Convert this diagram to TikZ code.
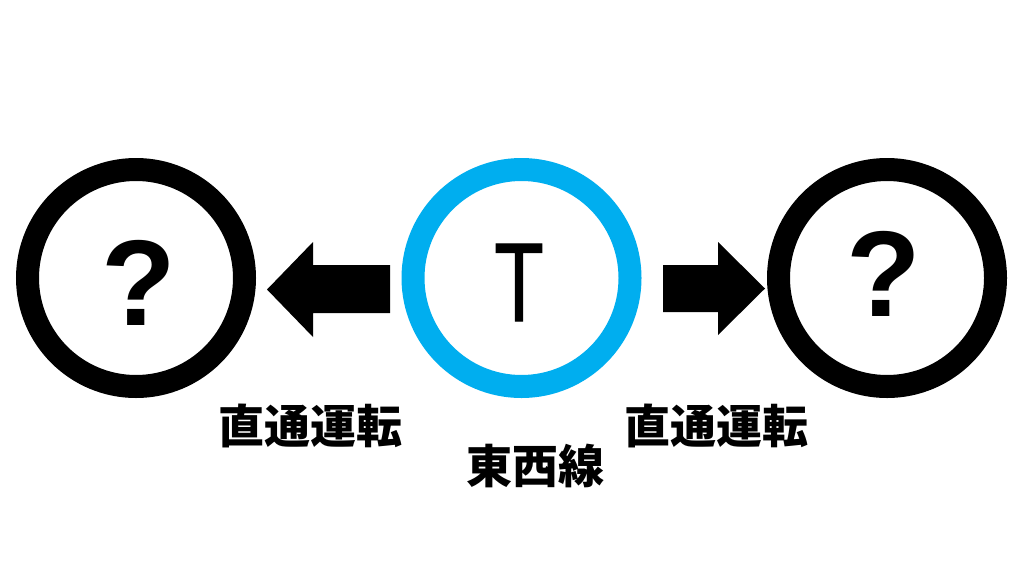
\documentclass[tikz,border=0pt]{standalone}
\usepackage{fontspec}
\setmainfont{Liberation Sans}
\newfontfamily\cjk{Noto Sans CJK JP}
\newfontfamily\tfont[FakeBold=1.2]{Liberation Sans}
\definecolor{lineblue}{RGB}{0,174,239}
\begin{document}
\begin{tikzpicture}[x=1pt,y=-1pt,
  ring/.style={circle,draw=black,line width=23pt,minimum size=217pt,inner sep=0pt},
  qmark/.style={font=\fontsize{122}{122}\selectfont\bfseries},
  lbl/.style={font=\cjk\bfseries\fontsize{46}{46}\selectfont,inner sep=0pt},
  bigarrow/.style={fill=black,draw=none}]
\useasboundingbox[fill=white] (0,0) rectangle (1024,576);
\node[ring] (L) at (136,278) {};
\node[ring,draw=lineblue] (C) at (521.5,278) {};
\node[ring] (R) at (887,278) {};
\node[qmark,inner sep=0pt,anchor=center] (ql) at (138.5,282.5) {?};
\node[qmark,inner sep=0pt,anchor=center] (qr) at (884,273.5) {?};
\node[inner sep=0pt,anchor=center,xscale=0.72,font=\tfont\fontsize{112}{112}\selectfont] (t) at (519,282.5) {T};
\fill[bigarrow] (390,265) -- (313,265) -- (313,242) -- (267,289.5) -- (313,337) -- (313,313) -- (390,313) -- cycle;
\fill[bigarrow] (663,265) -- (718,265) -- (718,242) -- (765,288.5) -- (718,335) -- (718,312) -- (663,312) -- cycle;
\node[lbl] (a) at (310,426) {直通運転};
\node[lbl] (b) at (535,466) {東西線};
\node[lbl] (c) at (716,426) {直通運転};
\end{tikzpicture}
\end{document}
